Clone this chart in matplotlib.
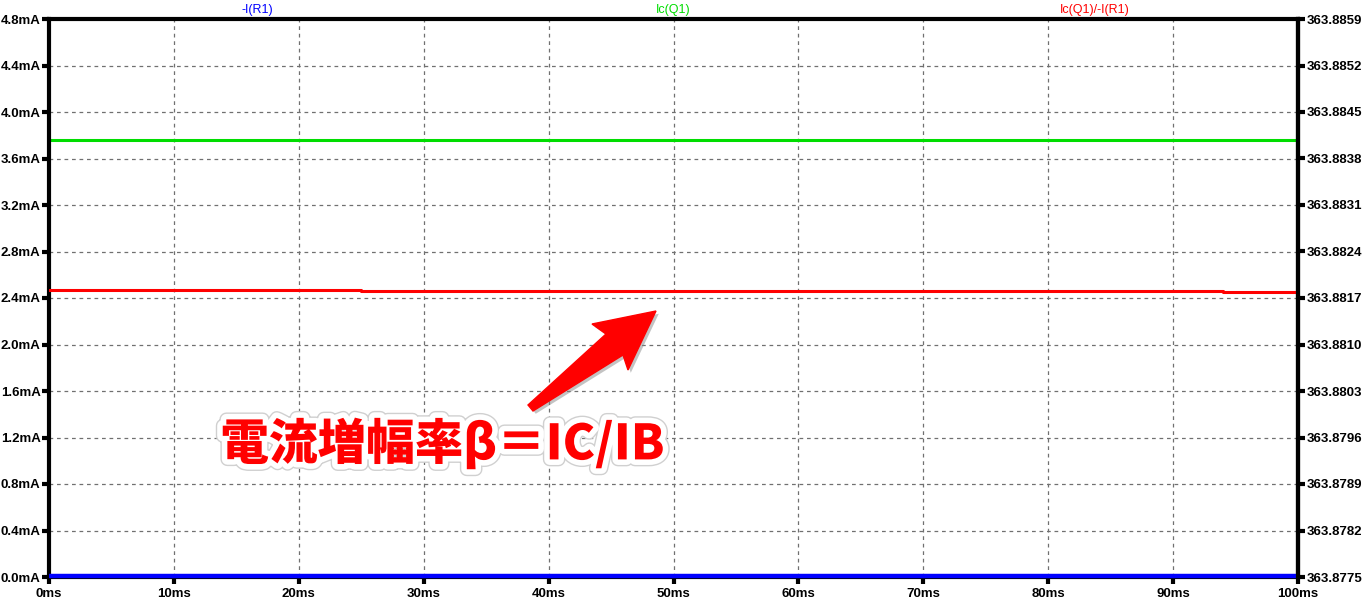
import matplotlib.pyplot as plt
import matplotlib.patheffects as pe
from matplotlib.patches import Polygon
from matplotlib.ticker import FuncFormatter

# time axis (ms) and traces
t_ms = [0, 100]
ic_q1 = [3.759, 3.759]          # Ic(Q1) in mA
i_r1 = [0.01033, 0.01033]       # -I(R1) in mA
beta_t = [0, 25, 94, 100]
beta = [363.88182, 363.88181, 363.88179, 363.88179]   # Ic(Q1)/-I(R1)

left_ticks = [i * 0.4 for i in range(13)]
right_ticks = [363.8775 + i * 0.0007 for i in range(13)]
x_ticks = list(range(0, 101, 10))

W, H = 1365, 605
plt.rcParams['font.family'] = ['Liberation Sans', 'DejaVu Sans']

fig = plt.figure(figsize=(W / 100, H / 100), dpi=100)
fig.patch.set_facecolor('white')
ax = fig.add_axes([49 / W, 28 / H, 1249 / W, 558 / H])
ax2 = ax.twinx()

ax.plot(t_ms, ic_q1, color='#00dd00', lw=2.2, solid_capstyle='butt')
ax.plot(t_ms, i_r1, color='#0000ff', lw=3.2, solid_capstyle='butt', clip_on=False, zorder=5)
ax2.plot(beta_t, beta, color='#ff0000', lw=2.2, drawstyle='steps-post')

ax.set_xlim(0, 100)
ax.set_ylim(0, 4.8)
ax2.set_ylim(363.8775, 363.8859)
ax.set_xticks(x_ticks)
ax.set_yticks(left_ticks)
ax2.set_yticks(right_ticks)
ax.xaxis.set_major_formatter(FuncFormatter(lambda v, p: "%dms" % round(v)))
ax.yaxis.set_major_formatter(FuncFormatter(lambda v, p: "%.1fmA" % v))
ax2.yaxis.set_major_formatter(FuncFormatter(lambda v, p: "%.4f" % v))

ax.grid(True, ls=(0, (3, 3)), color='#707070', lw=0.9)
for a in (ax, ax2):
    for s in a.spines.values():
        s.set_linewidth(3)
        s.set_color('black')
    a.tick_params(length=5, width=3, colors='black', labelsize=9.5, pad=1)
# only keep the right spine on the twin so the blue trace sits on top of the bottom spine
for side in ('left', 'top', 'bottom'):
    ax2.spines[side].set_visible(False)
for lab in ax.get_xticklabels() + ax.get_yticklabels() + ax2.get_yticklabels():
    lab.set_fontweight('bold')
ax.tick_params(axis='x', pad=3)

# trace names above the plot
ax.text(0.167, 1.005, "-I(R1)", color='#0000ff', fontsize=9, ha='center', va='bottom', transform=ax.transAxes)
ax.text(0.5, 1.005, "Ic(Q1)", color='#00dd00', fontsize=9, ha='center', va='bottom', transform=ax.transAxes)
ax.text(0.837, 1.005, "Ic(Q1)/-I(R1)", color='#ff0000', fontsize=9, ha='center', va='bottom', transform=ax.transAxes)

# callout arrow (pixel outline, image coords -> display coords)
arrow_px = [(528, 405), (533, 411), (623, 355), (628, 370), (656, 311), (592, 324), (606, 334)]
arrow = Polygon([(x, H - y) for x, y in arrow_px], closed=True, transform=None,
                facecolor='#ff0000', edgecolor='#ff0000', lw=1, zorder=10,
                path_effects=[pe.SimplePatchShadow(offset=(2, -2), shadow_rgbFace='#888888', alpha=0.5), pe.Normal()])
fig.patches.append(arrow)

ax.text(31.5, 1.15, "電流増幅率β＝IC/IB", fontsize=35, fontweight='heavy', color='#ff0000',
        family=['Noto Sans CJK JP', 'DejaVu Sans'], ha='center', va='center', zorder=11,
        path_effects=[pe.withStroke(linewidth=10, foreground='#d0d0d0'),
                      pe.withStroke(linewidth=8, foreground='white')])

fig.savefig('out.png', dpi=100, facecolor='white', edgecolor='#e8e8e8')
